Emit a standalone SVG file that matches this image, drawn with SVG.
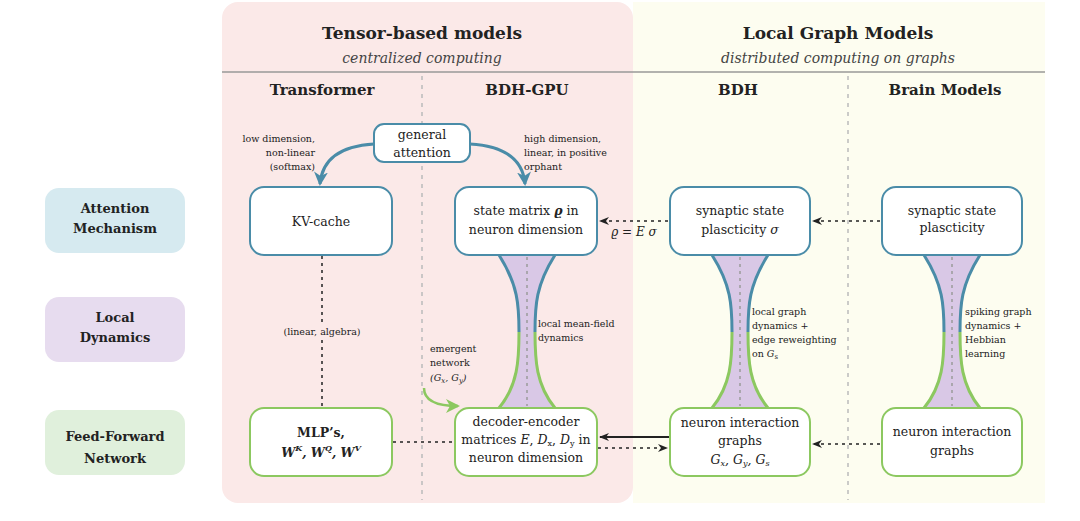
<svg xmlns="http://www.w3.org/2000/svg" width="1080" height="521" viewBox="0 0 1080 521">
<style>
text{font-family:"DejaVu Serif","Liberation Serif",serif;fill:#222}
.h{font-size:17px;font-weight:bold;text-anchor:middle}
.s{font-size:14px;font-style:italic;text-anchor:middle;fill:#444}
.c{font-size:15px;font-weight:bold;text-anchor:middle}
.n{font-size:12.5px;text-anchor:middle}
.r{font-size:13px;font-weight:bold;text-anchor:middle}
.sm{font-size:9.5px}
.bn{fill:#fff;stroke:#4a8ca8;stroke-width:2}
.gn{fill:#fff;stroke:#8cc860;stroke-width:2}
.vd{stroke:#bbb;stroke-width:1.5;stroke-dasharray:4 5}
.dl{stroke:#222;stroke-width:1.5;stroke-dasharray:3 4;fill:none}
.hb{stroke:#4a8ca8;stroke-width:3;fill:none}
.hg{stroke:#8cc860;stroke-width:3;fill:none}
.hf{fill:#d9c8e6}
.cd{stroke:#9a9a9a;stroke-width:1.5;stroke-dasharray:3 4}
</style>
<defs>
<marker id="ak" markerWidth="10" markerHeight="8" refX="9" refY="4" orient="auto" markerUnits="userSpaceOnUse"><path d="M0,0 L10,4 L0,8 L3,4z" fill="#222"/></marker>
<marker id="ag" markerWidth="14" markerHeight="14" refX="12" refY="7" orient="auto" markerUnits="userSpaceOnUse"><path d="M0,0 L14,7 L0,14 L4,7z" fill="#8cc860"/></marker>
<marker id="ab2" markerWidth="14" markerHeight="14" refX="12" refY="7" orient="auto" markerUnits="userSpaceOnUse"><path d="M0,0 L14,7 L0,14 L4,7z" fill="#4a8ca8"/></marker>
</defs>
<rect width="1080" height="521" fill="#fff"/>
<rect x="222" y="2" width="411" height="501" rx="16" fill="#fbe9e8"/>
<rect x="633" y="2" width="412" height="501" fill="#fdfdf0"/>
<text class="h" x="422" y="39">Tensor-based models</text>
<text class="s" x="422" y="63">centralized computing</text>
<text class="h" x="838" y="39">Local Graph Models</text>
<text class="s" x="838" y="63">distributed computing on graphs</text>
<line x1="222" y1="72" x2="1045" y2="72" stroke="#999" stroke-width="1.5"/>
<text class="c" x="322" y="95">Transformer</text>
<text class="c" x="527" y="95">BDH-GPU</text>
<text class="c" x="738" y="95">BDH</text>
<text class="c" x="945" y="95">Brain Models</text>
<line class="vd" x1="422" y1="76" x2="422" y2="500"/>
<line class="vd" x1="848" y1="76" x2="848" y2="500"/>
<g id="row-attention"><rect x="45" y="188" width="140" height="65" rx="14" fill="#d6eaf0"/><text class="r" x="115" y="213">Attention</text><text class="r" x="115" y="233">Mechanism</text></g>
<g id="row-local"><rect x="45" y="297" width="140" height="65" rx="14" fill="#e7dcef"/><text class="r" x="115" y="322">Local</text><text class="r" x="115" y="342">Dynamics</text></g>
<g id="row-ffn"><rect x="45" y="410" width="140" height="65" rx="14" fill="#e0f0dc"/><text class="r" x="115" y="441">Feed-Forward</text><text class="r" x="115" y="463">Network</text></g>
<g id="hourglasses">
<g id="hg1"><path class="hf" d="M499,255 C518,285 519,305 519,332 C519,360 518,385 499,408 L555,408 C536,385 535,360 535,332 C535,305 536,285 555,255z"/><path class="hb" d="M499,255 C518,285 519,305 519,332 M555,255 C536,285 535,305 535,332"/><path class="hg" d="M519,332 C519,360 518,385 499,408 M535,332 C535,360 536,385 555,408"/><line class="cd" x1="527" y1="257" x2="527" y2="406"/></g>
<g id="hg2"><path class="hf" d="M712,255 C731,285 732,305 732,332 C732,360 731,385 712,408 L768,408 C749,385 748,360 748,332 C748,305 749,285 768,255z"/><path class="hb" d="M712,255 C731,285 732,305 732,332 M768,255 C749,285 748,305 748,332"/><path class="hg" d="M732,332 C732,360 731,385 712,408 M748,332 C748,360 749,385 768,408"/><line class="cd" x1="740" y1="257" x2="740" y2="406"/></g>
<g id="hg3"><path class="hf" d="M924,255 C943,285 944,305 944,332 C944,360 943,385 924,408 L980,408 C961,385 960,360 960,332 C960,305 961,285 980,255z"/><path class="hb" d="M924,255 C943,285 944,305 944,332 M980,255 C961,285 960,305 960,332"/><path class="hg" d="M944,332 C944,360 943,385 924,408 M960,332 C960,360 961,385 980,408"/><line class="cd" x1="952" y1="257" x2="952" y2="406"/></g>
</g>
<g id="connectors">
<path d="M374,144 C340,146 322,160 320,184" stroke="#4a8ca8" stroke-width="3" fill="none" marker-end="url(#ab2)"/>
<path d="M470,144 C505,146 523,160 525,184" stroke="#4a8ca8" stroke-width="3" fill="none" marker-end="url(#ab2)"/>
<line class="dl" x1="322" y1="256" x2="322" y2="408" stroke="#888"/>
<line class="dl" x1="668" y1="221" x2="600" y2="221" marker-end="url(#ak)"/>
<line class="dl" x1="880" y1="221" x2="813" y2="221" marker-end="url(#ak)"/>
<line class="dl" x1="393" y1="442" x2="454" y2="442"/>
<line x1="669" y1="437" x2="600" y2="437" stroke="#222" stroke-width="1.8" marker-end="url(#ak)"/>
<line class="dl" x1="598" y1="448" x2="667" y2="448" marker-end="url(#ak)"/>
<line class="dl" x1="880" y1="444" x2="813" y2="444" marker-end="url(#ak)"/>
<path d="M424,388 C424,402 440,406 458,406" stroke="#8cc860" stroke-width="2.5" fill="none" marker-end="url(#ag)"/>
</g>
<g id="labels" class="sm">
<text x="315" y="142" text-anchor="end">low dimension,</text>
<text x="315" y="156" text-anchor="end">non-linear</text>
<text x="315" y="170" text-anchor="end">(softmax)</text>
<text x="524" y="142">high dimension,</text>
<text x="524" y="156">linear, in positive</text>
<text x="524" y="170">orphant</text>
<rect x="282" y="324" width="80" height="14" fill="#fbe9e8"/>
<text x="322" y="335" text-anchor="middle">(linear, algebra)</text>
<text x="634" y="236" text-anchor="middle" style="font-size:12px;font-style:italic">ϱ = E σ</text>
<text x="538" y="327">local mean-field</text>
<text x="538" y="341">dynamics</text>
<text x="430" y="352">emergent</text>
<text x="430" y="366">network</text>
<text x="430" y="381" font-style="italic">(G<tspan font-size="7" dy="2">x</tspan><tspan dy="-2">, G</tspan><tspan font-size="7" dy="2">y</tspan><tspan dy="-2">)</tspan></text>
<text x="752" y="315">local graph</text>
<text x="752" y="329">dynamics +</text>
<text x="752" y="343">edge reweighting</text>
<text x="752" y="357">on <tspan font-style="italic">G</tspan><tspan font-size="7" dy="2">s</tspan></text>
<text x="965" y="315">spiking graph</text>
<text x="965" y="329">dynamics +</text>
<text x="965" y="343">Hebbian</text>
<text x="965" y="357">learning</text>
</g>
<g id="general-attention"><rect x="374" y="124" width="96" height="38" rx="10" class="bn"/><text class="n" x="422" y="139">general</text><text class="n" x="422" y="157">attention</text></g>
<g id="kv-cache"><rect x="250" y="187" width="142" height="68" rx="14" class="bn"/><text class="n" x="321" y="226">KV-cache</text></g>
<g id="state-matrix"><rect x="455" y="187" width="142" height="68" rx="14" class="bn"/><text class="n" x="526" y="215">state matrix <tspan font-weight="bold" font-style="italic">ϱ</tspan> in</text><text class="n" x="526" y="234">neuron dimension</text></g>
<g id="synaptic-bdh"><rect x="670" y="187" width="140" height="68" rx="14" class="bn"/><text class="n" x="740" y="215">synaptic state</text><text class="n" x="740" y="234">plascticity  <tspan font-style="italic">σ</tspan></text></g>
<g id="synaptic-brain"><rect x="882" y="187" width="140" height="68" rx="14" class="bn"/><text class="n" x="952" y="215">synaptic state</text><text class="n" x="952" y="232">plascticity</text></g>
<g id="mlp"><rect x="250" y="408" width="142" height="68" rx="14" class="gn"/><text class="n" x="321" y="437" style="font-weight:bold">MLP’s,</text><text class="n" x="321" y="457" style="font-weight:bold;font-style:italic">W<tspan font-size="8" dy="-6">K</tspan><tspan dy="6">, W</tspan><tspan font-size="8" dy="-6">Q</tspan><tspan dy="6">, W</tspan><tspan font-size="8" dy="-6">V</tspan></text></g>
<g id="decoder-encoder"><rect x="455" y="408" width="142" height="68" rx="14" class="gn"/><text class="n" x="526" y="426">decoder-encoder</text><text class="n" x="526" y="444">matrices <tspan font-style="italic">E</tspan>, <tspan font-style="italic">D</tspan><tspan font-size="8" dy="2">x</tspan><tspan dy="-2">, </tspan><tspan font-style="italic">D</tspan><tspan font-size="8" dy="2">y</tspan><tspan dy="-2"> in</tspan></text><text class="n" x="526" y="462">neuron dimension</text></g>
<g id="interaction-bdh"><rect x="670" y="408" width="140" height="68" rx="14" class="gn"/><text class="n" x="740" y="427">neuron interaction</text><text class="n" x="740" y="445">graphs</text><text class="n" x="740" y="464" font-style="italic">G<tspan font-size="8" dy="2">x</tspan><tspan dy="-2">, G</tspan><tspan font-size="8" dy="2">y</tspan><tspan dy="-2">, G</tspan><tspan font-size="8" dy="2">s</tspan></text></g>
<g id="interaction-brain"><rect x="882" y="408" width="140" height="68" rx="14" class="gn"/><text class="n" x="952" y="436">neuron interaction</text><text class="n" x="952" y="455">graphs</text></g>
</svg>
